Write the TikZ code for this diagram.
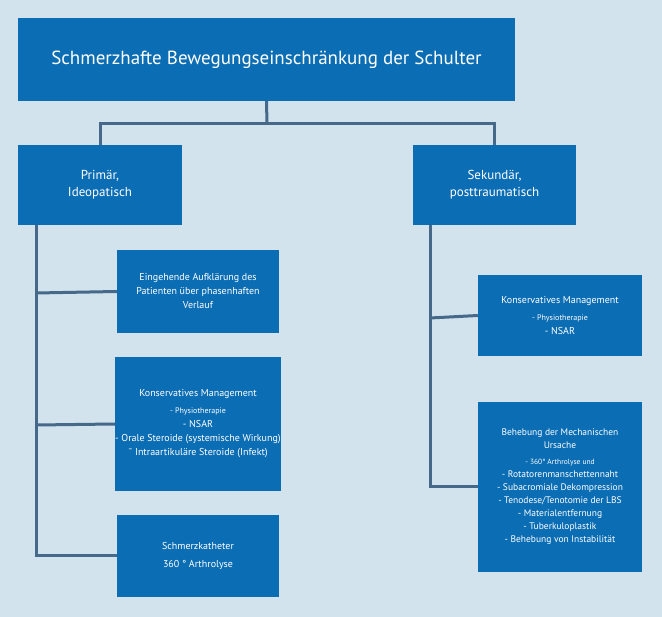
\documentclass[tikz,border=0pt]{standalone}
\usepackage{fontspec}
\setmainfont{PT Sans}
\definecolor{bg}{HTML}{D2E3EE}
\definecolor{box}{HTML}{0B6DB3}
\definecolor{ln}{HTML}{46698A}
\begin{document}
\begin{tikzpicture}[x=1pt,y=-1pt,
  bx/.style={fill=box,draw=none,text=white,align=center,inner sep=0pt},
  conn/.style={draw=ln,line width=3pt}]
\fill[bg] (0,0) rectangle (662,617);
\useasboundingbox (0,0) rectangle (662,617);
\node[bx,minimum width=497pt,minimum height=83pt,font=\fontsize{19}{22}\selectfont] (top) at (266.5,59.5) {Schmerzhafte Bewegungseinschränkung der Schulter};
\node[bx,minimum width=164pt,minimum height=80pt,font=\fontsize{13}{17}\selectfont] (pri) at (100,185) {Primär,\\Ideopatisch};
\node[bx,minimum width=163pt,minimum height=80pt,font=\fontsize{13}{17}\selectfont] (sek) at (494.5,185) {Sekundär,\\posttraumatisch};
\node[bx,minimum width=162pt,minimum height=83pt,font=\fontsize{10}{14}\selectfont] (auf) at (198,291.5) {Eingehende Aufklärung des\\Patienten über phasenhaften\\Verlauf};
\node[bx,minimum width=162pt,minimum height=134pt,font=\fontsize{10}{14}\selectfont] (kl) at (198,424) {Konservatives Management\\[3pt]\fontsize{8}{14}\selectfont - Physiotherapie\\- NSAR\\- Orale Steroide (systemische Wirkung)\\\textasciimacron\ Intraartikuläre Steroide (Infekt)};
\node[bx,minimum width=162pt,minimum height=82pt,font=\fontsize{10}{18}\selectfont] (sk) at (198,556) {Schmerzkatheter\\360 ° Arthrolyse};
\node[bx,minimum width=164pt,minimum height=81pt,font=\fontsize{10}{14}\selectfont] (kr) at (560,315.5) {Konservatives Management\\[3pt]\fontsize{8}{12}\selectfont - Physiotherapie\\- NSAR};
\node[bx,minimum width=164pt,minimum height=170pt,font=\fontsize{9.5}{13}\selectfont] (beh) at (560,487) {Behebung der Mechanischen\\Ursache\\[3pt]\fontsize{7.5}{13}\selectfont - 360° Arthrolyse und\\- Rotatorenmanschettennaht\\- Subacromiale Dekompression\\- Tenodese/Tenotomie der LBS\\- Materialentfernung\\- Tuberkuloplastik\\- Behebung von Instabilität};
\coordinate (j) at (267,124);
\draw[conn] (top.south) -- (j);
\draw[conn] (pri.north) -- (100,124) -- (494.5,124) -- (sek.north);
\draw[conn] (36,225) -- (36,556) -- (sk.west);
\draw[conn] (36,293) -- (auf.west);
\draw[conn] (36,425) -- (kl.west);
\draw[conn] (430,225) -- (430,487) -- (beh.west);
\draw[conn] (430,318) -- (kr.west);
\end{tikzpicture}
\end{document}
